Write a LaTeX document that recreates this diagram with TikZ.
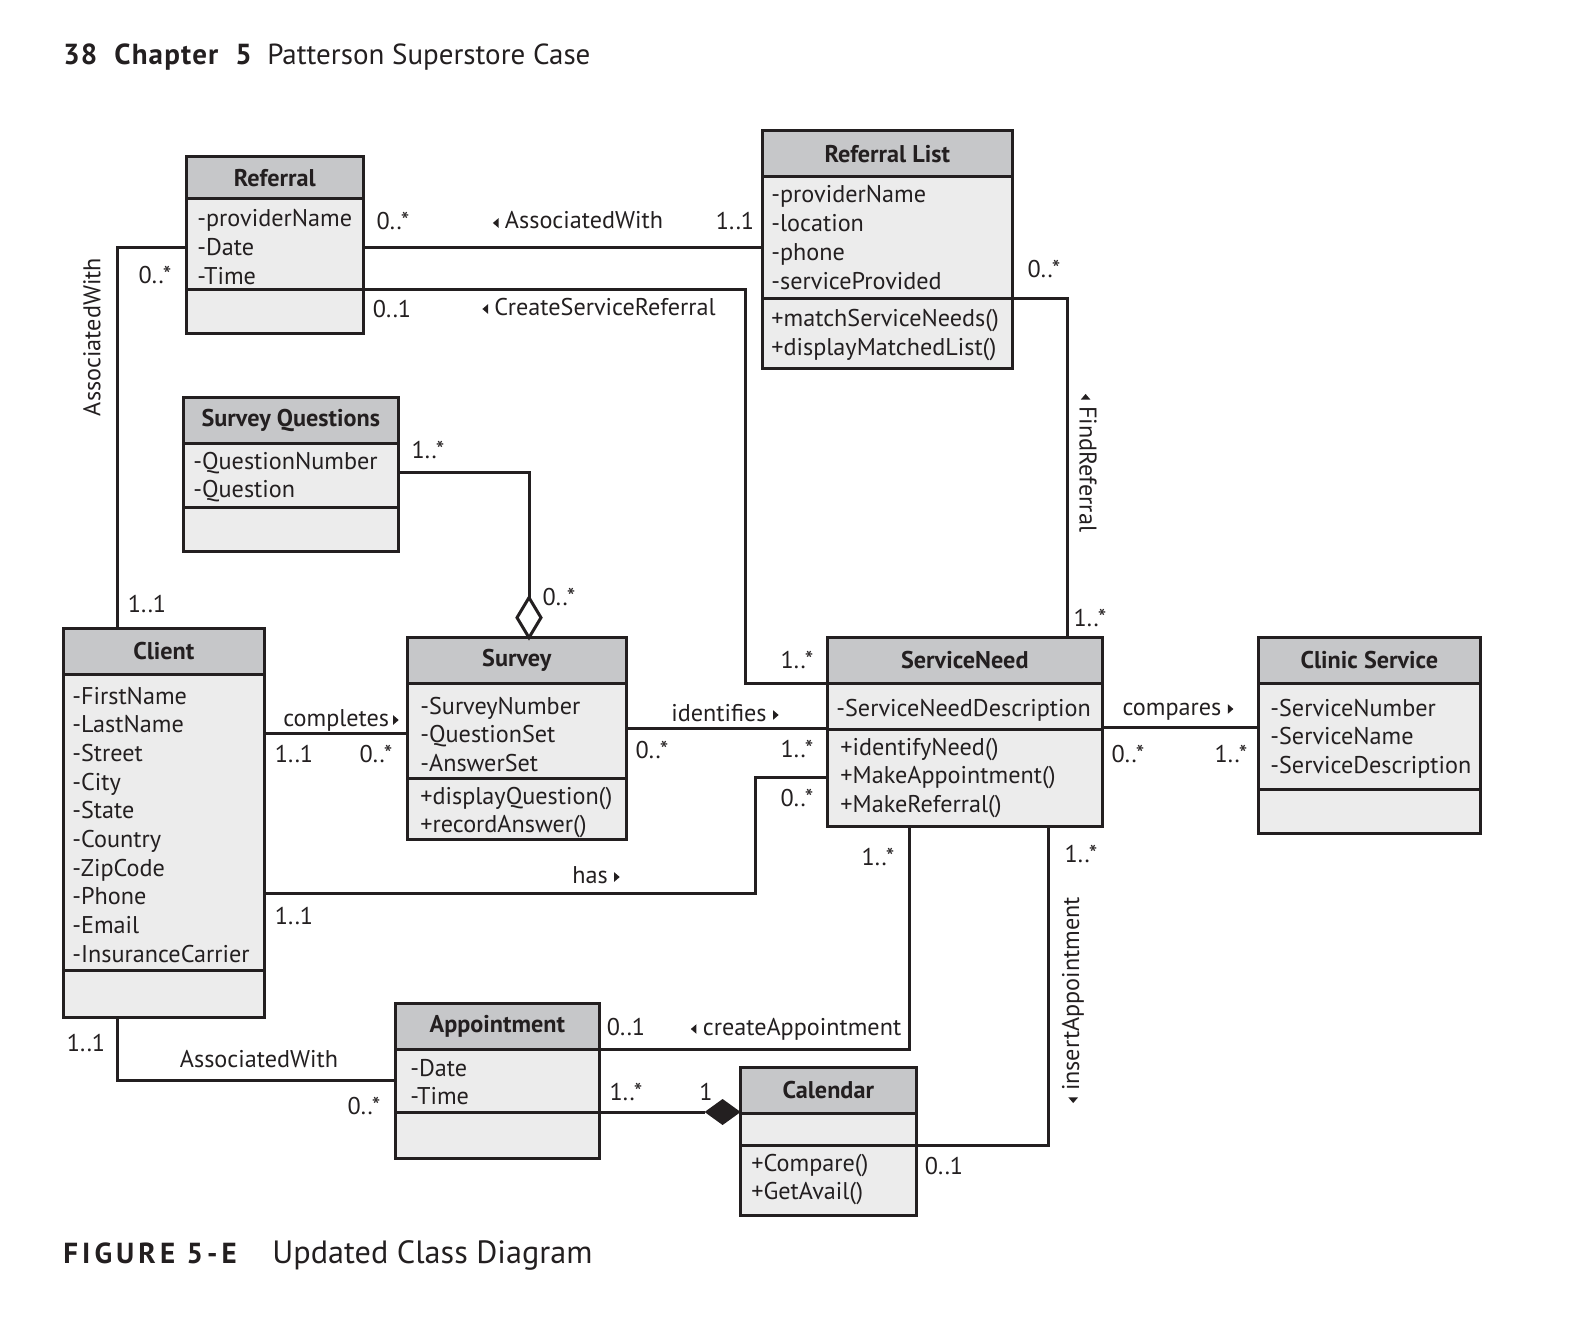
\documentclass[tikz,border=0pt]{standalone}
\usepackage{fontspec}
\setmainfont{PT Sans}
\usetikzlibrary{fit,calc}
\definecolor{ink}{HTML}{231F20}
\definecolor{hdr}{HTML}{C6C7C9}
\definecolor{body}{HTML}{ECECEC}
\newcommand\attrfont{\fontsize{12.1}{14}\selectfont}
\newcommand\ttlfont{\fontsize{12.1}{14}\selectfont\bfseries}
\newcommand\lt{\tikz[baseline=0pt]\fill[ink] (0pt,3pt) -- (2.8pt,5.4pt) -- (2.8pt,0.6pt) -- cycle;}
\newcommand\rt{\tikz[baseline=0pt]\fill[ink] (0pt,0.6pt) -- (2.8pt,3pt) -- (0pt,5.4pt) -- cycle;}
\tikzset{
  ln/.style={line width=1.5pt, draw=ink},
  txt/.style={anchor=base west, inner sep=0, font=\attrfont, text=ink},
  lbl/.style={anchor=base, yshift=-4pt, inner sep=0, font=\attrfont, text=ink},
  rlbl/.style={anchor=center, inner sep=0, font=\attrfont, text=ink},
  ttl/.style={anchor=center, inner sep=0, font=\ttlfont, text=ink},
}
% name, x1, y1, x2, y2, header bottom, attr bottom, title
\newcommand\umlclass[8]{%
  \node[fit={(#2,#3)(#4,#5)}, inner sep=0, fill=body] (#1) {};
  \fill[hdr] (#1.north west) rectangle (#4,#6);
  \draw[ln] (#1.west |- 0,#6) -- (#1.east |- 0,#6);
  \draw[ln] (#1.west |- 0,#7) -- (#1.east |- 0,#7);
  \draw[ln] (#1.north west) rectangle (#1.south east);
  \node[ttl] (#1-t) at ($(#1.north west)!0.5!(#4,#6)$) {#8};
}
% prefix, x, first baseline, list
\newcommand\lines[4]{%
  \foreach \t [count=\i from 0] in {#4} {\node[txt] (#1\i) at (#2, #3+\i*28.7) {\t};}
}
\begin{document}
\begin{tikzpicture}[x=0.5pt, y=-0.5pt]
\useasboundingbox (0,0) rectangle (1582,1342);

% page header and caption
\node[anchor=base west, inner sep=0, text=ink, font=\fontsize{14.5}{16}\selectfont] (head) at (63,65)
  {{\bfseries\addfontfeature{LetterSpace=4}38\ \ Chapter\ \ 5}\ \ Patterson Superstore Case};
\node[anchor=base west, inner sep=0, text=ink, font=\fontsize{14.5}{16}\selectfont\bfseries\addfontfeature{LetterSpace=14}] (cap) at (63,1263)
  {FIGURE 5-E};
\node[anchor=base west, inner sep=0, text=ink, font=\fontsize{16.1}{18}\selectfont] (cap2) at (272,1263)
  {Updated Class Diagram};

% classes
\umlclass{referral}{187}{157}{363}{333}{199}{290}{Referral}
\lines{ra}{197}{227}{-providerName,-Date,-Time}

\umlclass{reflist}{763}{131}{1012}{368}{177}{299}{Referral List}
\lines{la}{771}{203}{-providerName,-location,-phone,-serviceProvided}
\lines{lm}{771}{327}{+matchServiceNeeds(),+displayMatchedList()}

\umlclass{sq}{184}{398}{398}{551}{443}{507}{Survey Questions}
\lines{qa}{193}{469}{-QuestionNumber,-Question}

\umlclass{client}{64}{629}{264}{1017}{674}{970}{Client}
\lines{ca}{72}{704}{-FirstName,-LastName,-Street,-City,-State,-Country,-ZipCode,-Phone,-Email,-InsuranceCarrier}

\umlclass{survey}{408}{638}{626}{839}{683}{778}{Survey}
\lines{sa}{420}{714}{-SurveyNumber,-QuestionSet,-AnswerSet}
\lines{sm}{420}{804}{+displayQuestion(),+recordAnswer()}

\umlclass{need}{828}{638}{1102}{826}{683}{729}{ServiceNeed}
\lines{na}{836}{716}{-ServiceNeedDescription}
\lines{nm}{840}{755}{+identifyNeed(),+MakeAppointment(),+MakeReferral()}

\umlclass{clinic}{1259}{638}{1480}{833}{683}{789}{Clinic Service}
\lines{ka}{1270}{716}{-ServiceNumber,-ServiceName,-ServiceDescription}

\umlclass{appt}{396}{1004}{599}{1158}{1049}{1112}{Appointment}
\lines{aa}{410}{1076}{-Date,-Time}

\umlclass{cal}{741}{1068}{916}{1215}{1113}{1145}{Calendar}
\lines{cm}{751}{1171}{+Compare(),+GetAvail()}

% connectors
\draw[ln] (referral.east |- 0,248) -- (reflist.west |- 0,248);
\draw[ln] (referral.west |- 0,248) -| (client.north -| 117,0);
\draw[ln] (referral.east |- 0,290) -| (745,683) -- (need.west |- 0,683);
\draw[ln] (reflist.east |- 0,299) -| (need.north -| 1067,0);
\coordinate (aggtip) at (survey.north -| 529,0);
\draw[ln] (sq.east |- 0,472) -| ($(aggtip)+(0,-40)$);
\draw[ln, fill=white] (aggtip) -- ++(-12,-20) -- ++(12,-20) -- ++(12,20) -- cycle;
\draw[ln] (client.east |- 0,733) -- (survey.west |- 0,733);
\draw[ln] (survey.east |- 0,728) -- (need.west |- 0,728);
\draw[ln] (client.east |- 0,893) -| (755,777) -- (need.west |- 0,777);
\draw[ln] (need.east |- 0,727) -- (clinic.west |- 0,727);
\draw[ln] (client.south -| 117,0) |- (appt.west |- 0,1080);
\draw[ln] (need.south -| 909,0) |- (appt.east |- 0,1049);
\coordinate (comptip) at (cal.west |- 0,1112);
\draw[ln] (appt.east |- 0,1112) -- ($(comptip)+(-36,0)$);
\fill[ink] (comptip) -- ++(-18,-13) -- ++(-18,13) -- ++(18,13) -- cycle;
\draw[ln] (need.south -| 1048,0) |- (cal.east |- 0,1145);

% labels
\node[lbl] (l1) at (393,222) {0..*};
\node[lbl] (l2) at (578,221) {\lt\ AssociatedWith};
\node[lbl] (l3) at (735,222) {1..1};
\node[lbl] (l4) at (155,276) {0..*};
\node[lbl] (l5) at (392,309) {0..1};
\node[lbl] (l6) at (599,307) {\lt\ CreateServiceReferral};
\node[lbl] (l7) at (1044,270) {0..*};
\node[lbl] (l8) at (428,450) {1..*};
\node[lbl] (l9) at (559,597) {0..*};
\node[lbl] (l10) at (147,604) {1..1};
\node[lbl] (l11) at (1090,618) {1..*};
\node[lbl] (l12) at (797,660) {1..*};
\node[lbl] (l13) at (341,718) {completes\,\rt};
\node[lbl] (l14) at (294,754) {1..1};
\node[lbl] (l15) at (376,754) {0..*};
\node[lbl] (l16) at (725,713) {identifies \rt};
\node[lbl] (l17) at (652,750) {0..*};
\node[lbl] (l18) at (797,749) {1..*};
\node[lbl] (l19) at (797,798) {0..*};
\node[lbl] (l20) at (1178,707) {compares \rt};
\node[lbl] (l21) at (1128,754) {0..*};
\node[lbl] (l22) at (1231,754) {1..*};
\node[lbl] (l23) at (596,875) {has \rt};
\node[lbl] (l24) at (294,916) {1..1};
\node[lbl] (l25) at (878,857) {1..*};
\node[lbl] (l26) at (1081,854) {1..*};
\node[lbl] (l27) at (86,1043) {1..1};
\node[lbl] (l28) at (259,1059) {AssociatedWith};
\node[lbl] (l29) at (626,1027) {0..1};
\node[lbl] (l30) at (796,1027) {\lt\ createAppointment};
\node[lbl] (l31) at (364,1106) {0..*};
\node[lbl] (l32) at (626,1092) {1..*};
\node[lbl] (l33) at (706,1092) {1};
\node[lbl] (l34) at (944,1166) {0..1};
\node[rlbl, rotate=90] (r1) at (92,337) {AssociatedWith};
\node[rlbl, rotate=-90] (r2) at (1088,463) {\lt\ FindReferral};
\node[rlbl, rotate=90] (r3) at (1073,1000) {\lt\ insertAppointment};
\end{tikzpicture}
\end{document}
